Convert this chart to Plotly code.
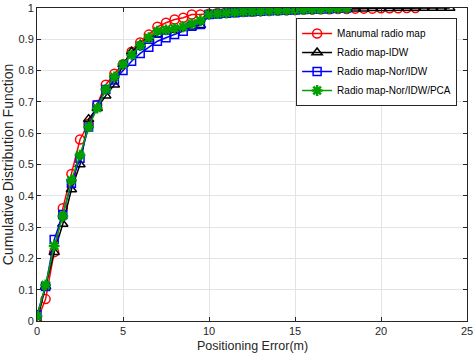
import plotly.graph_objects as go

step = 0.5

manual_cdf = [0.0, 0.07, 0.22, 0.36, 0.47, 0.58, 0.63, 0.69, 0.755, 0.79,
              0.82, 0.86, 0.89, 0.915, 0.94, 0.953, 0.963, 0.969, 0.979, 0.979,
              0.982, 0.984, 0.986, 0.987, 0.988, 0.989, 0.99, 0.991, 0.992, 0.993,
              0.994, 0.995, 0.995, 0.996, 0.996, 0.997, 0.997, 0.998, 0.998, 0.998,
              0.999, 0.999, 0.999, 1.0, 1.0]
idw_cdf = [0.0, 0.11, 0.22, 0.31, 0.42, 0.5, 0.645, 0.68, 0.72, 0.755,
           0.82, 0.86, 0.883, 0.9, 0.915, 0.925, 0.93, 0.935, 0.94, 0.945,
           0.975, 0.978, 0.98, 0.982, 0.984, 0.986, 0.988, 0.989, 0.99, 0.991,
           0.992, 0.993, 0.994, 0.995, 0.996, 0.997, 0.997, 0.998, 0.998, 0.999,
           0.999, 0.999, 1.0, 1.0, 1.0, 1.0, 1.0, 1.0, 1.0]
nor_idw_cdf = [0.02, 0.11, 0.26, 0.34, 0.44, 0.52, 0.62, 0.69, 0.74, 0.77,
               0.8, 0.83, 0.855, 0.875, 0.894, 0.905, 0.915, 0.926, 0.942, 0.947,
               0.979, 0.981, 0.983, 0.985, 0.987, 0.988, 0.99, 0.991, 0.992, 0.993,
               0.994, 0.995, 0.996, 0.997, 0.998, 0.999, 1.0]
nor_idw_pca_cdf = [0.015, 0.115, 0.24, 0.335, 0.45, 0.53, 0.62, 0.68, 0.74, 0.78,
                   0.82, 0.85, 0.88, 0.905, 0.926, 0.93, 0.935, 0.94, 0.95, 0.96,
                   0.98, 0.982, 0.984, 0.986, 0.988, 0.989, 0.99, 0.991, 0.992, 0.993,
                   0.994, 0.995, 0.996, 0.997, 0.998, 0.999, 1.0]

series_names = ["Manumal radio map", "Radio map-IDW", "Radio map-Nor/IDW", "Radio map-Nor/IDW/PCA"]
x_ticks = [0, 5, 10, 15, 20, 25]
y_ticks = [0, 0.1, 0.2, 0.3, 0.4, 0.5, 0.6, 0.7, 0.8, 0.9, 1]
x_title = "Positioning Error(m)"
y_title = "Cumulative Distribution Function"

data = [manual_cdf, idw_cdf, nor_idw_cdf, nor_idw_pca_cdf]
colors = ["#ff0000", "#000000", "#0000ff", "#00a000"]
symbols = ["circle-open", "triangle-up-open", "square-open", "asterisk-open"]
sizes = [9, 9, 8, 9]

FONT = "Liberation Sans, Arial"

fig = go.Figure()
for name, ys, c, s, sz in zip(series_names, data, colors, symbols, sizes):
    xs = [i * step for i in range(len(ys))]
    fig.add_trace(go.Scatter(
        x=xs, y=ys, name=name, mode="lines+markers",
        line=dict(color=c, width=1.5),
        marker=dict(symbol=s, size=sz, color=c,
                    line=dict(color=c, width=1.5 if s != "asterisk-open" else 2.5)),
    ))

axis_common = dict(
    showline=True, linecolor="#262626", linewidth=1, mirror="ticks",
    ticks="inside", ticklen=4, tickcolor="#262626",
    showgrid=True, gridcolor="#e3e3e3", gridwidth=1, zeroline=False,
    tickfont=dict(family=FONT, size=11, color="#262626"),
    automargin=False,
)

fig.update_xaxes(range=[0, 25], tickvals=x_ticks, ticktext=[str(v) for v in x_ticks], **axis_common)
fig.update_yaxes(range=[0, 1], tickvals=y_ticks, ticktext=[("%g" % v) for v in y_ticks], **axis_common)

fig.add_annotation(text=x_title, xref="paper", yref="paper", x=0.5, y=-0.08,
                   xanchor="center", yanchor="middle", showarrow=False,
                   font=dict(family=FONT, size=12.5, color="#262626"))
fig.add_annotation(text=y_title, xref="paper", yref="paper", x=-0.068, y=0.5,
                   xanchor="center", yanchor="middle", showarrow=False, textangle=-90,
                   font=dict(family=FONT, size=14, color="#262626"))

fig.update_layout(
    width=474, height=356,
    margin=dict(l=37, r=7, t=8, b=35, autoexpand=False),
    paper_bgcolor="white", plot_bgcolor="white",
    showlegend=True,
    legend=dict(x=0.977, y=0.968, xanchor="right", yanchor="top",
                bgcolor="white", bordercolor="#262626", borderwidth=1,
                font=dict(family=FONT, size=10, color="#000000"),
                tracegroupgap=0, itemwidth=30),
)

fig.write_html("out.html", config={"displayModeBar": False},
               post_script="document.body.style.margin='0';document.body.style.overflow='hidden';")
